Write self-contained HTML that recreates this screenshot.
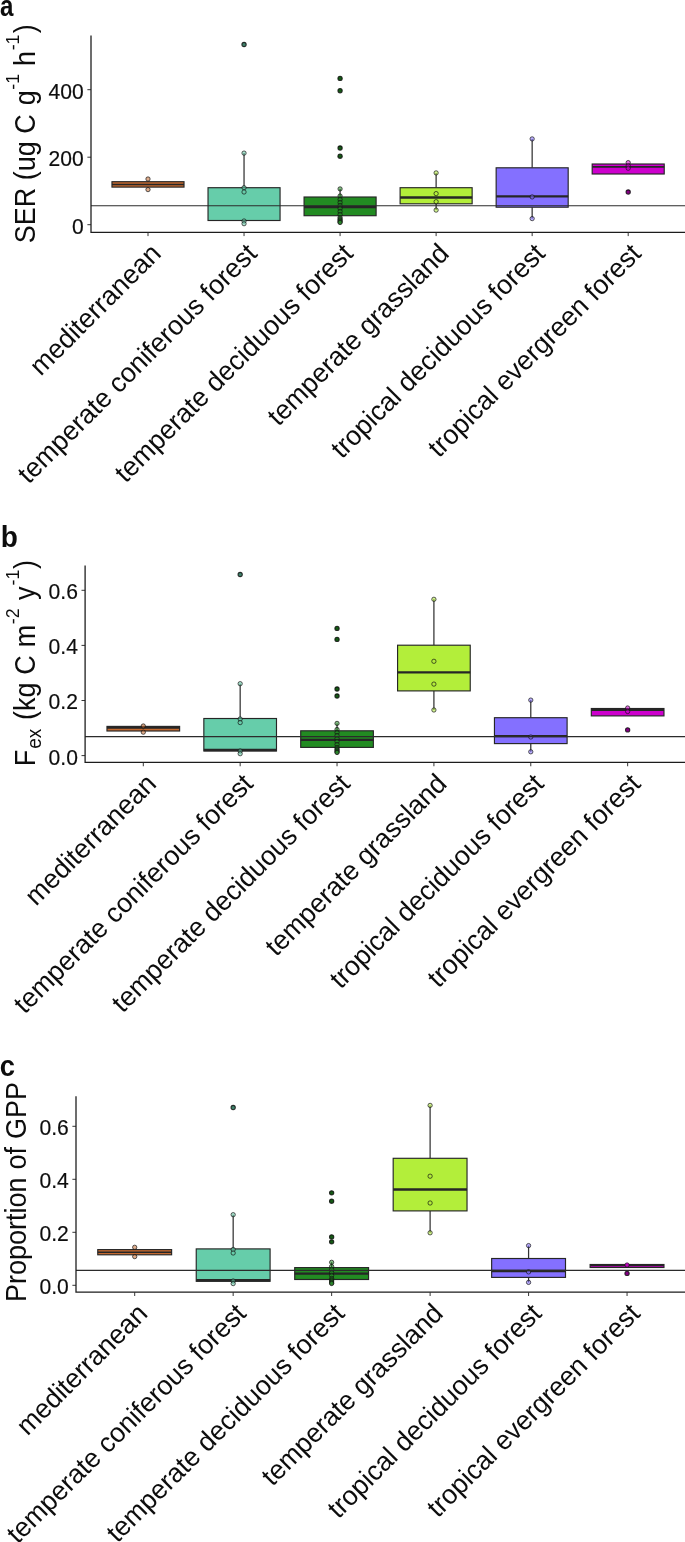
<!DOCTYPE html>
<html lang="en"><head><meta charset="utf-8"><title>Boxplots by biome</title>
<style>html,body{margin:0;padding:0;background:#fff}svg{display:block}</style></head><body>
<svg width="685" height="1542" viewBox="0 0 685 1542" font-family='"Liberation Sans", Arial, Helvetica, sans-serif'>
<style>text{fill:#0d0d0d}</style>
<rect width="685" height="1542" fill="#fff"/>
<g>
<text transform="translate(0.05 15.6) scale(0.82 1)" font-size="29.5" font-weight="700" fill="#0a0a0a">a</text>
<line x1="87.4" y1="224.7" x2="91" y2="224.7" stroke="#2a2a2a" stroke-width="0.95"/>
<text transform="translate(83.8 233.6) scale(1 1.06)" font-size="21.1" text-anchor="end" stroke="#111" stroke-width="0.18">0</text>
<line x1="87.4" y1="157.2" x2="91" y2="157.2" stroke="#2a2a2a" stroke-width="0.95"/>
<text transform="translate(83.8 166.1) scale(1 1.06)" font-size="21.1" text-anchor="end" stroke="#111" stroke-width="0.18">200</text>
<line x1="87.4" y1="89.7" x2="91" y2="89.7" stroke="#2a2a2a" stroke-width="0.95"/>
<text transform="translate(83.8 98.6) scale(1 1.06)" font-size="21.1" text-anchor="end" stroke="#111" stroke-width="0.18">400</text>
<rect x="111.98" y="181.7" width="72.03" height="5.4" fill="#C4692F" stroke="#262626" stroke-width="1.15"/>
<line x1="111.98" y1="184.4" x2="184.01" y2="184.4" stroke="#262626" stroke-width="1.5"/>
<circle cx="148" cy="179" r="2.15" fill="#C4692F" fill-opacity="0.55" stroke="#111" stroke-opacity="0.72" stroke-width="0.95"/>
<circle cx="148" cy="189.6" r="2.15" fill="#C4692F" fill-opacity="0.55" stroke="#111" stroke-opacity="0.72" stroke-width="0.95"/>
<line x1="244.04" y1="153.1" x2="244.04" y2="187.7" stroke="#333" stroke-width="1.25"/>
<circle cx="244.04" cy="44.5" r="2.15" fill="#66CDAA"/>
<circle cx="244.04" cy="44.5" r="2.15" fill="#000" fill-opacity="0.36" stroke="#0a0a0a" stroke-opacity="0.8" stroke-width="1.05"/>
<rect x="208.03" y="187.7" width="72.03" height="32.8" fill="#66CDAA" stroke="#262626" stroke-width="1.15"/>
<circle cx="244.04" cy="153.1" r="2.15" fill="#66CDAA" fill-opacity="0.55" stroke="#111" stroke-opacity="0.72" stroke-width="0.95"/>
<circle cx="244.04" cy="187.7" r="2.15" fill="#66CDAA" fill-opacity="0.55" stroke="#111" stroke-opacity="0.72" stroke-width="0.95"/>
<circle cx="244.04" cy="192" r="2.15" fill="#66CDAA" fill-opacity="0.55" stroke="#111" stroke-opacity="0.72" stroke-width="0.95"/>
<circle cx="244.04" cy="221" r="2.15" fill="#66CDAA" fill-opacity="0.55" stroke="#111" stroke-opacity="0.72" stroke-width="0.95"/>
<circle cx="244.04" cy="223.7" r="2.15" fill="#66CDAA" fill-opacity="0.55" stroke="#111" stroke-opacity="0.72" stroke-width="0.95"/>
<line x1="340.08" y1="188.9" x2="340.08" y2="197" stroke="#333" stroke-width="1.25"/>
<circle cx="340.08" cy="78.4" r="2.15" fill="#228B22"/>
<circle cx="340.08" cy="78.4" r="2.15" fill="#000" fill-opacity="0.36" stroke="#0a0a0a" stroke-opacity="0.8" stroke-width="1.05"/>
<circle cx="340.08" cy="90.7" r="2.15" fill="#228B22"/>
<circle cx="340.08" cy="90.7" r="2.15" fill="#000" fill-opacity="0.36" stroke="#0a0a0a" stroke-opacity="0.8" stroke-width="1.05"/>
<circle cx="340.08" cy="148" r="2.15" fill="#228B22"/>
<circle cx="340.08" cy="148" r="2.15" fill="#000" fill-opacity="0.36" stroke="#0a0a0a" stroke-opacity="0.8" stroke-width="1.05"/>
<circle cx="340.08" cy="156.2" r="2.15" fill="#228B22"/>
<circle cx="340.08" cy="156.2" r="2.15" fill="#000" fill-opacity="0.36" stroke="#0a0a0a" stroke-opacity="0.8" stroke-width="1.05"/>
<rect x="304.07" y="197" width="72.03" height="18.7" fill="#228B22" stroke="#262626" stroke-width="1.15"/>
<line x1="304.07" y1="206.9" x2="376.1" y2="206.9" stroke="#262626" stroke-width="2.5"/>
<circle cx="340.08" cy="188.9" r="2.15" fill="#228B22" fill-opacity="0.55" stroke="#111" stroke-opacity="0.72" stroke-width="0.95"/>
<circle cx="340.08" cy="196" r="2.15" fill="#228B22" fill-opacity="0.55" stroke="#111" stroke-opacity="0.72" stroke-width="0.95"/>
<circle cx="340.08" cy="199.5" r="2.15" fill="#228B22" fill-opacity="0.55" stroke="#111" stroke-opacity="0.72" stroke-width="0.95"/>
<circle cx="340.08" cy="202.5" r="2.15" fill="#228B22" fill-opacity="0.55" stroke="#111" stroke-opacity="0.72" stroke-width="0.95"/>
<circle cx="340.08" cy="205.5" r="2.15" fill="#228B22" fill-opacity="0.55" stroke="#111" stroke-opacity="0.72" stroke-width="0.95"/>
<circle cx="340.08" cy="208.5" r="2.15" fill="#228B22" fill-opacity="0.55" stroke="#111" stroke-opacity="0.72" stroke-width="0.95"/>
<circle cx="340.08" cy="211.5" r="2.15" fill="#228B22" fill-opacity="0.55" stroke="#111" stroke-opacity="0.72" stroke-width="0.95"/>
<circle cx="340.08" cy="214.5" r="2.15" fill="#228B22" fill-opacity="0.55" stroke="#111" stroke-opacity="0.72" stroke-width="0.95"/>
<circle cx="340.08" cy="217.5" r="2.15" fill="#228B22" fill-opacity="0.55" stroke="#111" stroke-opacity="0.72" stroke-width="0.95"/>
<circle cx="340.08" cy="219" r="2.15" fill="#228B22" fill-opacity="0.55" stroke="#111" stroke-opacity="0.72" stroke-width="0.95"/>
<circle cx="340.08" cy="220" r="2.15" fill="#228B22" fill-opacity="0.55" stroke="#111" stroke-opacity="0.72" stroke-width="0.95"/>
<circle cx="340.08" cy="221" r="2.15" fill="#228B22" fill-opacity="0.55" stroke="#111" stroke-opacity="0.72" stroke-width="0.95"/>
<circle cx="340.08" cy="222" r="2.15" fill="#228B22" fill-opacity="0.55" stroke="#111" stroke-opacity="0.72" stroke-width="0.95"/>
<circle cx="340.08" cy="222.5" r="2.15" fill="#228B22" fill-opacity="0.55" stroke="#111" stroke-opacity="0.72" stroke-width="0.95"/>
<line x1="436.12" y1="172.9" x2="436.12" y2="187.7" stroke="#333" stroke-width="1.25"/>
<line x1="436.12" y1="203.8" x2="436.12" y2="210.1" stroke="#333" stroke-width="1.25"/>
<rect x="400.11" y="187.7" width="72.03" height="16.1" fill="#B3EE3A" stroke="#262626" stroke-width="1.15"/>
<line x1="400.11" y1="197.5" x2="472.13" y2="197.5" stroke="#262626" stroke-width="2.3"/>
<circle cx="436.12" cy="172.9" r="2.15" fill="#B3EE3A" fill-opacity="0.55" stroke="#111" stroke-opacity="0.72" stroke-width="0.95"/>
<circle cx="436.12" cy="193.6" r="2.15" fill="#B3EE3A" fill-opacity="0.55" stroke="#111" stroke-opacity="0.72" stroke-width="0.95"/>
<circle cx="436.12" cy="201.7" r="2.15" fill="#B3EE3A" fill-opacity="0.55" stroke="#111" stroke-opacity="0.72" stroke-width="0.95"/>
<circle cx="436.12" cy="210.1" r="2.15" fill="#B3EE3A" fill-opacity="0.55" stroke="#111" stroke-opacity="0.72" stroke-width="0.95"/>
<line x1="532.16" y1="138.9" x2="532.16" y2="167.8" stroke="#333" stroke-width="1.25"/>
<line x1="532.16" y1="207.2" x2="532.16" y2="218.6" stroke="#333" stroke-width="1.25"/>
<rect x="496.15" y="167.8" width="72.03" height="39.4" fill="#8470FF" stroke="#262626" stroke-width="1.15"/>
<line x1="496.15" y1="196.4" x2="568.18" y2="196.4" stroke="#262626" stroke-width="2.3"/>
<circle cx="532.16" cy="138.9" r="2.15" fill="#8470FF" fill-opacity="0.55" stroke="#111" stroke-opacity="0.72" stroke-width="0.95"/>
<circle cx="532.16" cy="196.9" r="2.15" fill="#8470FF" fill-opacity="0.55" stroke="#111" stroke-opacity="0.72" stroke-width="0.95"/>
<circle cx="532.16" cy="218.6" r="2.15" fill="#8470FF" fill-opacity="0.55" stroke="#111" stroke-opacity="0.72" stroke-width="0.95"/>
<circle cx="628.2" cy="192" r="2.15" fill="#CD00CD"/>
<circle cx="628.2" cy="192" r="2.15" fill="#000" fill-opacity="0.36" stroke="#0a0a0a" stroke-opacity="0.8" stroke-width="1.05"/>
<rect x="592.19" y="164" width="72.03" height="10" fill="#CD00CD" stroke="#262626" stroke-width="1.15"/>
<line x1="592.19" y1="166.8" x2="664.22" y2="166.8" stroke="#262626" stroke-width="1.8"/>
<circle cx="628.2" cy="162.6" r="2.15" fill="#CD00CD" fill-opacity="0.55" stroke="#111" stroke-opacity="0.72" stroke-width="0.95"/>
<circle cx="628.2" cy="165.9" r="2.15" fill="#CD00CD" fill-opacity="0.55" stroke="#111" stroke-opacity="0.72" stroke-width="0.95"/>
<circle cx="628.2" cy="168.2" r="2.15" fill="#CD00CD" fill-opacity="0.55" stroke="#111" stroke-opacity="0.72" stroke-width="0.95"/>
<line x1="91" y1="205.7" x2="685" y2="205.7" stroke="#2b2b2b" stroke-width="1.1"/>
<path d="M91 35.4V232.3H687" fill="none" stroke="#1c1c1c" stroke-width="1.28"/>
<line x1="148" y1="232.3" x2="148" y2="236.1" stroke="#2a2a2a" stroke-width="0.95"/>
<text transform="translate(162.4 255) rotate(-45) scale(1 1.02)" font-size="26.7" text-anchor="end">mediterranean</text>
<line x1="244.04" y1="232.3" x2="244.04" y2="236.1" stroke="#2a2a2a" stroke-width="0.95"/>
<text transform="translate(258.44 255) rotate(-45) scale(1 1.02)" font-size="26.7" text-anchor="end">temperate coniferous forest</text>
<line x1="340.08" y1="232.3" x2="340.08" y2="236.1" stroke="#2a2a2a" stroke-width="0.95"/>
<text transform="translate(354.48 255) rotate(-45) scale(1 1.02)" font-size="26.7" text-anchor="end">temperate deciduous forest</text>
<line x1="436.12" y1="232.3" x2="436.12" y2="236.1" stroke="#2a2a2a" stroke-width="0.95"/>
<text transform="translate(450.52 255) rotate(-45) scale(1 1.02)" font-size="26.7" text-anchor="end">temperate grassland</text>
<line x1="532.16" y1="232.3" x2="532.16" y2="236.1" stroke="#2a2a2a" stroke-width="0.95"/>
<text transform="translate(546.56 255) rotate(-45) scale(1 1.02)" font-size="26.7" text-anchor="end">tropical deciduous forest</text>
<line x1="628.2" y1="232.3" x2="628.2" y2="236.1" stroke="#2a2a2a" stroke-width="0.95"/>
<text transform="translate(642.6 255) rotate(-45) scale(1 1.02)" font-size="26.7" text-anchor="end">tropical evergreen forest</text>
<text transform="translate(34.5 243.2) rotate(-90) scale(1 1.06)" font-size="27" word-spacing="0">SER (ug C <tspan dx="1.5">g</tspan><tspan font-size="17.8" dy="-14.5" dx="0.5">-1</tspan><tspan dy="14.5" dx="0.5"> h</tspan><tspan font-size="17.8" dy="-14.5" dx="0.5">-1</tspan><tspan dy="14.5" dx="1.3">)</tspan></text>
</g>
<g>
<text transform="translate(0.7 546.7) scale(0.95 1)" font-size="29.5" font-weight="700" fill="#0a0a0a">b</text>
<line x1="81.5" y1="755.6" x2="85.1" y2="755.6" stroke="#2a2a2a" stroke-width="0.95"/>
<text transform="translate(77.9 764.5) scale(1 1.06)" font-size="21.1" text-anchor="end" stroke="#111" stroke-width="0.18">0.0</text>
<line x1="81.5" y1="700.5" x2="85.1" y2="700.5" stroke="#2a2a2a" stroke-width="0.95"/>
<text transform="translate(77.9 709.4) scale(1 1.06)" font-size="21.1" text-anchor="end" stroke="#111" stroke-width="0.18">0.2</text>
<line x1="81.5" y1="645.4" x2="85.1" y2="645.4" stroke="#2a2a2a" stroke-width="0.95"/>
<text transform="translate(77.9 654.3) scale(1 1.06)" font-size="21.1" text-anchor="end" stroke="#111" stroke-width="0.18">0.4</text>
<line x1="81.5" y1="590.3" x2="85.1" y2="590.3" stroke="#2a2a2a" stroke-width="0.95"/>
<text transform="translate(77.9 599.2) scale(1 1.06)" font-size="21.1" text-anchor="end" stroke="#111" stroke-width="0.18">0.6</text>
<rect x="106.97" y="726.4" width="72.65" height="4.6" fill="#C4692F" stroke="#262626" stroke-width="1.15"/>
<line x1="106.97" y1="727.7" x2="179.63" y2="727.7" stroke="#262626" stroke-width="2.2"/>
<circle cx="143.3" cy="726" r="2.15" fill="#C4692F" fill-opacity="0.55" stroke="#111" stroke-opacity="0.72" stroke-width="0.95"/>
<circle cx="143.3" cy="732.2" r="2.15" fill="#C4692F" fill-opacity="0.55" stroke="#111" stroke-opacity="0.72" stroke-width="0.95"/>
<line x1="240.17" y1="683.7" x2="240.17" y2="718.5" stroke="#333" stroke-width="1.25"/>
<circle cx="240.17" cy="574.5" r="2.15" fill="#66CDAA"/>
<circle cx="240.17" cy="574.5" r="2.15" fill="#000" fill-opacity="0.36" stroke="#0a0a0a" stroke-opacity="0.8" stroke-width="1.05"/>
<rect x="203.84" y="718.5" width="72.65" height="32.5" fill="#66CDAA" stroke="#262626" stroke-width="1.15"/>
<line x1="203.84" y1="750" x2="276.5" y2="750" stroke="#262626" stroke-width="2.4"/>
<circle cx="240.17" cy="683.7" r="2.15" fill="#66CDAA" fill-opacity="0.55" stroke="#111" stroke-opacity="0.72" stroke-width="0.95"/>
<circle cx="240.17" cy="719" r="2.15" fill="#66CDAA" fill-opacity="0.55" stroke="#111" stroke-opacity="0.72" stroke-width="0.95"/>
<circle cx="240.17" cy="722.6" r="2.15" fill="#66CDAA" fill-opacity="0.55" stroke="#111" stroke-opacity="0.72" stroke-width="0.95"/>
<circle cx="240.17" cy="751" r="2.15" fill="#66CDAA" fill-opacity="0.55" stroke="#111" stroke-opacity="0.72" stroke-width="0.95"/>
<circle cx="240.17" cy="753.7" r="2.15" fill="#66CDAA" fill-opacity="0.55" stroke="#111" stroke-opacity="0.72" stroke-width="0.95"/>
<line x1="337.04" y1="723.4" x2="337.04" y2="730.8" stroke="#333" stroke-width="1.25"/>
<circle cx="337.04" cy="628.4" r="2.15" fill="#228B22"/>
<circle cx="337.04" cy="628.4" r="2.15" fill="#000" fill-opacity="0.36" stroke="#0a0a0a" stroke-opacity="0.8" stroke-width="1.05"/>
<circle cx="337.04" cy="639.4" r="2.15" fill="#228B22"/>
<circle cx="337.04" cy="639.4" r="2.15" fill="#000" fill-opacity="0.36" stroke="#0a0a0a" stroke-opacity="0.8" stroke-width="1.05"/>
<circle cx="337.04" cy="689" r="2.15" fill="#228B22"/>
<circle cx="337.04" cy="689" r="2.15" fill="#000" fill-opacity="0.36" stroke="#0a0a0a" stroke-opacity="0.8" stroke-width="1.05"/>
<circle cx="337.04" cy="696" r="2.15" fill="#228B22"/>
<circle cx="337.04" cy="696" r="2.15" fill="#000" fill-opacity="0.36" stroke="#0a0a0a" stroke-opacity="0.8" stroke-width="1.05"/>
<rect x="300.71" y="730.8" width="72.65" height="16.6" fill="#228B22" stroke="#262626" stroke-width="1.15"/>
<line x1="300.71" y1="739.9" x2="373.37" y2="739.9" stroke="#262626" stroke-width="2.3"/>
<circle cx="337.04" cy="723.4" r="2.15" fill="#228B22" fill-opacity="0.55" stroke="#111" stroke-opacity="0.72" stroke-width="0.95"/>
<circle cx="337.04" cy="729.5" r="2.15" fill="#228B22" fill-opacity="0.55" stroke="#111" stroke-opacity="0.72" stroke-width="0.95"/>
<circle cx="337.04" cy="732.5" r="2.15" fill="#228B22" fill-opacity="0.55" stroke="#111" stroke-opacity="0.72" stroke-width="0.95"/>
<circle cx="337.04" cy="735.5" r="2.15" fill="#228B22" fill-opacity="0.55" stroke="#111" stroke-opacity="0.72" stroke-width="0.95"/>
<circle cx="337.04" cy="738.5" r="2.15" fill="#228B22" fill-opacity="0.55" stroke="#111" stroke-opacity="0.72" stroke-width="0.95"/>
<circle cx="337.04" cy="741.5" r="2.15" fill="#228B22" fill-opacity="0.55" stroke="#111" stroke-opacity="0.72" stroke-width="0.95"/>
<circle cx="337.04" cy="744.5" r="2.15" fill="#228B22" fill-opacity="0.55" stroke="#111" stroke-opacity="0.72" stroke-width="0.95"/>
<circle cx="337.04" cy="747.5" r="2.15" fill="#228B22" fill-opacity="0.55" stroke="#111" stroke-opacity="0.72" stroke-width="0.95"/>
<circle cx="337.04" cy="749" r="2.15" fill="#228B22" fill-opacity="0.55" stroke="#111" stroke-opacity="0.72" stroke-width="0.95"/>
<circle cx="337.04" cy="750" r="2.15" fill="#228B22" fill-opacity="0.55" stroke="#111" stroke-opacity="0.72" stroke-width="0.95"/>
<circle cx="337.04" cy="751" r="2.15" fill="#228B22" fill-opacity="0.55" stroke="#111" stroke-opacity="0.72" stroke-width="0.95"/>
<circle cx="337.04" cy="752" r="2.15" fill="#228B22" fill-opacity="0.55" stroke="#111" stroke-opacity="0.72" stroke-width="0.95"/>
<circle cx="337.04" cy="752.5" r="2.15" fill="#228B22" fill-opacity="0.55" stroke="#111" stroke-opacity="0.72" stroke-width="0.95"/>
<line x1="433.91" y1="599.3" x2="433.91" y2="645.2" stroke="#333" stroke-width="1.25"/>
<line x1="433.91" y1="690.9" x2="433.91" y2="710" stroke="#333" stroke-width="1.25"/>
<rect x="397.58" y="645.2" width="72.65" height="45.7" fill="#B3EE3A" stroke="#262626" stroke-width="1.15"/>
<line x1="397.58" y1="672.3" x2="470.24" y2="672.3" stroke="#262626" stroke-width="2.3"/>
<circle cx="433.91" cy="599.3" r="2.15" fill="#B3EE3A" fill-opacity="0.55" stroke="#111" stroke-opacity="0.72" stroke-width="0.95"/>
<circle cx="433.91" cy="661.3" r="2.15" fill="#B3EE3A" fill-opacity="0.55" stroke="#111" stroke-opacity="0.72" stroke-width="0.95"/>
<circle cx="433.91" cy="684.1" r="2.15" fill="#B3EE3A" fill-opacity="0.55" stroke="#111" stroke-opacity="0.72" stroke-width="0.95"/>
<circle cx="433.91" cy="710" r="2.15" fill="#B3EE3A" fill-opacity="0.55" stroke="#111" stroke-opacity="0.72" stroke-width="0.95"/>
<line x1="530.78" y1="700.1" x2="530.78" y2="717.7" stroke="#333" stroke-width="1.25"/>
<line x1="530.78" y1="743.6" x2="530.78" y2="751.8" stroke="#333" stroke-width="1.25"/>
<rect x="494.45" y="717.7" width="72.65" height="25.9" fill="#8470FF" stroke="#262626" stroke-width="1.15"/>
<line x1="494.45" y1="736.2" x2="567.11" y2="736.2" stroke="#262626" stroke-width="2.3"/>
<circle cx="530.78" cy="700.1" r="2.15" fill="#8470FF" fill-opacity="0.55" stroke="#111" stroke-opacity="0.72" stroke-width="0.95"/>
<circle cx="530.78" cy="737" r="2.15" fill="#8470FF" fill-opacity="0.55" stroke="#111" stroke-opacity="0.72" stroke-width="0.95"/>
<circle cx="530.78" cy="751.8" r="2.15" fill="#8470FF" fill-opacity="0.55" stroke="#111" stroke-opacity="0.72" stroke-width="0.95"/>
<circle cx="627.65" cy="729.9" r="2.15" fill="#CD00CD"/>
<circle cx="627.65" cy="729.9" r="2.15" fill="#000" fill-opacity="0.36" stroke="#0a0a0a" stroke-opacity="0.8" stroke-width="1.05"/>
<rect x="591.32" y="708.5" width="72.65" height="7.4" fill="#CD00CD" stroke="#262626" stroke-width="1.15"/>
<line x1="591.32" y1="709.9" x2="663.98" y2="709.9" stroke="#262626" stroke-width="2.4"/>
<circle cx="627.65" cy="708" r="2.15" fill="#CD00CD" fill-opacity="0.55" stroke="#111" stroke-opacity="0.72" stroke-width="0.95"/>
<circle cx="627.65" cy="711.5" r="2.15" fill="#CD00CD" fill-opacity="0.55" stroke="#111" stroke-opacity="0.72" stroke-width="0.95"/>
<line x1="85.1" y1="736.6" x2="685" y2="736.6" stroke="#2b2b2b" stroke-width="1.1"/>
<path d="M85.1 565.6V762.45H687" fill="none" stroke="#1c1c1c" stroke-width="1.28"/>
<line x1="143.3" y1="762.45" x2="143.3" y2="766.25" stroke="#2a2a2a" stroke-width="0.95"/>
<text transform="translate(157.7 785.15) rotate(-45) scale(1 1.02)" font-size="26.7" text-anchor="end">mediterranean</text>
<line x1="240.17" y1="762.45" x2="240.17" y2="766.25" stroke="#2a2a2a" stroke-width="0.95"/>
<text transform="translate(254.57 785.15) rotate(-45) scale(1 1.02)" font-size="26.7" text-anchor="end">temperate coniferous forest</text>
<line x1="337.04" y1="762.45" x2="337.04" y2="766.25" stroke="#2a2a2a" stroke-width="0.95"/>
<text transform="translate(351.44 785.15) rotate(-45) scale(1 1.02)" font-size="26.7" text-anchor="end">temperate deciduous forest</text>
<line x1="433.91" y1="762.45" x2="433.91" y2="766.25" stroke="#2a2a2a" stroke-width="0.95"/>
<text transform="translate(448.31 785.15) rotate(-45) scale(1 1.02)" font-size="26.7" text-anchor="end">temperate grassland</text>
<line x1="530.78" y1="762.45" x2="530.78" y2="766.25" stroke="#2a2a2a" stroke-width="0.95"/>
<text transform="translate(545.18 785.15) rotate(-45) scale(1 1.02)" font-size="26.7" text-anchor="end">tropical deciduous forest</text>
<line x1="627.65" y1="762.45" x2="627.65" y2="766.25" stroke="#2a2a2a" stroke-width="0.95"/>
<text transform="translate(642.05 785.15) rotate(-45) scale(1 1.02)" font-size="26.7" text-anchor="end">tropical evergreen forest</text>
<text transform="translate(34.5 766.2) rotate(-90) scale(1 1.06)" font-size="27" word-spacing="0.4">F<tspan font-size="18.9" dy="6" dx="1">ex</tspan><tspan dy="-6" dx="0.8"> (kg C m</tspan><tspan font-size="17.8" dy="-14.5" dx="0.5">-2</tspan><tspan dy="14.5" dx="0.5"> y</tspan><tspan font-size="17.8" dy="-14.5" dx="1.2">-1</tspan><tspan dy="14.5" dx="0.5">)</tspan></text>
</g>
<g>
<text transform="translate(-0.25 1076.4) scale(0.93 1)" font-size="29.5" font-weight="700" fill="#0a0a0a">c</text>
<line x1="72.4" y1="1285.3" x2="76" y2="1285.3" stroke="#2a2a2a" stroke-width="0.95"/>
<text transform="translate(68.8 1294.2) scale(1 1.06)" font-size="21.1" text-anchor="end" stroke="#111" stroke-width="0.18">0.0</text>
<line x1="72.4" y1="1232.3" x2="76" y2="1232.3" stroke="#2a2a2a" stroke-width="0.95"/>
<text transform="translate(68.8 1241.2) scale(1 1.06)" font-size="21.1" text-anchor="end" stroke="#111" stroke-width="0.18">0.2</text>
<line x1="72.4" y1="1179.3" x2="76" y2="1179.3" stroke="#2a2a2a" stroke-width="0.95"/>
<text transform="translate(68.8 1188.2) scale(1 1.06)" font-size="21.1" text-anchor="end" stroke="#111" stroke-width="0.18">0.4</text>
<line x1="72.4" y1="1126.3" x2="76" y2="1126.3" stroke="#2a2a2a" stroke-width="0.95"/>
<text transform="translate(68.8 1135.2) scale(1 1.06)" font-size="21.1" text-anchor="end" stroke="#111" stroke-width="0.18">0.6</text>
<rect x="97.77" y="1249.6" width="73.85" height="5.2" fill="#C4692F" stroke="#262626" stroke-width="1.15"/>
<line x1="97.77" y1="1252.2" x2="171.63" y2="1252.2" stroke="#262626" stroke-width="1.6"/>
<circle cx="134.7" cy="1247.3" r="2.15" fill="#C4692F" fill-opacity="0.55" stroke="#111" stroke-opacity="0.72" stroke-width="0.95"/>
<circle cx="134.7" cy="1256.6" r="2.15" fill="#C4692F" fill-opacity="0.55" stroke="#111" stroke-opacity="0.72" stroke-width="0.95"/>
<line x1="233.17" y1="1214.7" x2="233.17" y2="1248.9" stroke="#333" stroke-width="1.25"/>
<circle cx="233.17" cy="1107.5" r="2.15" fill="#66CDAA"/>
<circle cx="233.17" cy="1107.5" r="2.15" fill="#000" fill-opacity="0.36" stroke="#0a0a0a" stroke-opacity="0.8" stroke-width="1.05"/>
<rect x="196.24" y="1248.9" width="73.85" height="32.4" fill="#66CDAA" stroke="#262626" stroke-width="1.15"/>
<line x1="196.24" y1="1280.2" x2="270.1" y2="1280.2" stroke="#262626" stroke-width="2.4"/>
<circle cx="233.17" cy="1214.7" r="2.15" fill="#66CDAA" fill-opacity="0.55" stroke="#111" stroke-opacity="0.72" stroke-width="0.95"/>
<circle cx="233.17" cy="1249.5" r="2.15" fill="#66CDAA" fill-opacity="0.55" stroke="#111" stroke-opacity="0.72" stroke-width="0.95"/>
<circle cx="233.17" cy="1253" r="2.15" fill="#66CDAA" fill-opacity="0.55" stroke="#111" stroke-opacity="0.72" stroke-width="0.95"/>
<circle cx="233.17" cy="1281" r="2.15" fill="#66CDAA" fill-opacity="0.55" stroke="#111" stroke-opacity="0.72" stroke-width="0.95"/>
<circle cx="233.17" cy="1283.6" r="2.15" fill="#66CDAA" fill-opacity="0.55" stroke="#111" stroke-opacity="0.72" stroke-width="0.95"/>
<line x1="331.64" y1="1262.3" x2="331.64" y2="1267.6" stroke="#333" stroke-width="1.25"/>
<circle cx="331.64" cy="1192.8" r="2.15" fill="#228B22"/>
<circle cx="331.64" cy="1192.8" r="2.15" fill="#000" fill-opacity="0.36" stroke="#0a0a0a" stroke-opacity="0.8" stroke-width="1.05"/>
<circle cx="331.64" cy="1201.2" r="2.15" fill="#228B22"/>
<circle cx="331.64" cy="1201.2" r="2.15" fill="#000" fill-opacity="0.36" stroke="#0a0a0a" stroke-opacity="0.8" stroke-width="1.05"/>
<circle cx="331.64" cy="1236.9" r="2.15" fill="#228B22"/>
<circle cx="331.64" cy="1236.9" r="2.15" fill="#000" fill-opacity="0.36" stroke="#0a0a0a" stroke-opacity="0.8" stroke-width="1.05"/>
<circle cx="331.64" cy="1241.8" r="2.15" fill="#228B22"/>
<circle cx="331.64" cy="1241.8" r="2.15" fill="#000" fill-opacity="0.36" stroke="#0a0a0a" stroke-opacity="0.8" stroke-width="1.05"/>
<rect x="294.71" y="1267.6" width="73.85" height="11.9" fill="#228B22" stroke="#262626" stroke-width="1.15"/>
<line x1="294.71" y1="1273.7" x2="368.57" y2="1273.7" stroke="#262626" stroke-width="2.3"/>
<circle cx="331.64" cy="1262.3" r="2.15" fill="#228B22" fill-opacity="0.55" stroke="#111" stroke-opacity="0.72" stroke-width="0.95"/>
<circle cx="331.64" cy="1266.5" r="2.15" fill="#228B22" fill-opacity="0.55" stroke="#111" stroke-opacity="0.72" stroke-width="0.95"/>
<circle cx="331.64" cy="1269.5" r="2.15" fill="#228B22" fill-opacity="0.55" stroke="#111" stroke-opacity="0.72" stroke-width="0.95"/>
<circle cx="331.64" cy="1272.5" r="2.15" fill="#228B22" fill-opacity="0.55" stroke="#111" stroke-opacity="0.72" stroke-width="0.95"/>
<circle cx="331.64" cy="1275.5" r="2.15" fill="#228B22" fill-opacity="0.55" stroke="#111" stroke-opacity="0.72" stroke-width="0.95"/>
<circle cx="331.64" cy="1278.5" r="2.15" fill="#228B22" fill-opacity="0.55" stroke="#111" stroke-opacity="0.72" stroke-width="0.95"/>
<circle cx="331.64" cy="1280" r="2.15" fill="#228B22" fill-opacity="0.55" stroke="#111" stroke-opacity="0.72" stroke-width="0.95"/>
<circle cx="331.64" cy="1281" r="2.15" fill="#228B22" fill-opacity="0.55" stroke="#111" stroke-opacity="0.72" stroke-width="0.95"/>
<circle cx="331.64" cy="1282" r="2.15" fill="#228B22" fill-opacity="0.55" stroke="#111" stroke-opacity="0.72" stroke-width="0.95"/>
<circle cx="331.64" cy="1283" r="2.15" fill="#228B22" fill-opacity="0.55" stroke="#111" stroke-opacity="0.72" stroke-width="0.95"/>
<circle cx="331.64" cy="1283.5" r="2.15" fill="#228B22" fill-opacity="0.55" stroke="#111" stroke-opacity="0.72" stroke-width="0.95"/>
<line x1="430.11" y1="1105.4" x2="430.11" y2="1158.3" stroke="#333" stroke-width="1.25"/>
<line x1="430.11" y1="1210.9" x2="430.11" y2="1232.8" stroke="#333" stroke-width="1.25"/>
<rect x="393.18" y="1158.3" width="73.85" height="52.6" fill="#B3EE3A" stroke="#262626" stroke-width="1.15"/>
<line x1="393.18" y1="1189.5" x2="467.04" y2="1189.5" stroke="#262626" stroke-width="2.3"/>
<circle cx="430.11" cy="1105.4" r="2.15" fill="#B3EE3A" fill-opacity="0.55" stroke="#111" stroke-opacity="0.72" stroke-width="0.95"/>
<circle cx="430.11" cy="1176.2" r="2.15" fill="#B3EE3A" fill-opacity="0.55" stroke="#111" stroke-opacity="0.72" stroke-width="0.95"/>
<circle cx="430.11" cy="1203" r="2.15" fill="#B3EE3A" fill-opacity="0.55" stroke="#111" stroke-opacity="0.72" stroke-width="0.95"/>
<circle cx="430.11" cy="1232.8" r="2.15" fill="#B3EE3A" fill-opacity="0.55" stroke="#111" stroke-opacity="0.72" stroke-width="0.95"/>
<line x1="528.58" y1="1245.6" x2="528.58" y2="1258.5" stroke="#333" stroke-width="1.25"/>
<line x1="528.58" y1="1277.4" x2="528.58" y2="1282.4" stroke="#333" stroke-width="1.25"/>
<rect x="491.65" y="1258.5" width="73.85" height="18.9" fill="#8470FF" stroke="#262626" stroke-width="1.15"/>
<line x1="491.65" y1="1271" x2="565.51" y2="1271" stroke="#262626" stroke-width="2.3"/>
<circle cx="528.58" cy="1245.6" r="2.15" fill="#8470FF" fill-opacity="0.55" stroke="#111" stroke-opacity="0.72" stroke-width="0.95"/>
<circle cx="528.58" cy="1271.9" r="2.15" fill="#8470FF" fill-opacity="0.55" stroke="#111" stroke-opacity="0.72" stroke-width="0.95"/>
<circle cx="528.58" cy="1282.4" r="2.15" fill="#8470FF" fill-opacity="0.55" stroke="#111" stroke-opacity="0.72" stroke-width="0.95"/>
<circle cx="627.05" cy="1273.4" r="2.15" fill="#CD00CD"/>
<circle cx="627.05" cy="1273.4" r="2.15" fill="#000" fill-opacity="0.36" stroke="#0a0a0a" stroke-opacity="0.8" stroke-width="1.05"/>
<rect x="590.12" y="1264.5" width="73.85" height="3" fill="#CD00CD" stroke="#262626" stroke-width="1.15"/>
<line x1="590.12" y1="1265.4" x2="663.98" y2="1265.4" stroke="#262626" stroke-width="1.6"/>
<circle cx="627.05" cy="1265" r="2.15" fill="#CD00CD" fill-opacity="0.9" stroke="#111" stroke-opacity="0.72" stroke-width="0.95"/>
<line x1="76" y1="1270.4" x2="685" y2="1270.4" stroke="#2b2b2b" stroke-width="1.1"/>
<path d="M76 1096.3V1292.2H687" fill="none" stroke="#1c1c1c" stroke-width="1.28"/>
<line x1="134.7" y1="1292.2" x2="134.7" y2="1296" stroke="#2a2a2a" stroke-width="0.95"/>
<text transform="translate(149.1 1314.9) rotate(-45) scale(1 1.02)" font-size="26.7" text-anchor="end">mediterranean</text>
<line x1="233.17" y1="1292.2" x2="233.17" y2="1296" stroke="#2a2a2a" stroke-width="0.95"/>
<text transform="translate(247.57 1314.9) rotate(-45) scale(1 1.02)" font-size="26.7" text-anchor="end">temperate coniferous forest</text>
<line x1="331.64" y1="1292.2" x2="331.64" y2="1296" stroke="#2a2a2a" stroke-width="0.95"/>
<text transform="translate(346.04 1314.9) rotate(-45) scale(1 1.02)" font-size="26.7" text-anchor="end">temperate deciduous forest</text>
<line x1="430.11" y1="1292.2" x2="430.11" y2="1296" stroke="#2a2a2a" stroke-width="0.95"/>
<text transform="translate(444.51 1314.9) rotate(-45) scale(1 1.02)" font-size="26.7" text-anchor="end">temperate grassland</text>
<line x1="528.58" y1="1292.2" x2="528.58" y2="1296" stroke="#2a2a2a" stroke-width="0.95"/>
<text transform="translate(542.98 1314.9) rotate(-45) scale(1 1.02)" font-size="26.7" text-anchor="end">tropical deciduous forest</text>
<line x1="627.05" y1="1292.2" x2="627.05" y2="1296" stroke="#2a2a2a" stroke-width="0.95"/>
<text transform="translate(641.45 1314.9) rotate(-45) scale(1 1.02)" font-size="26.7" text-anchor="end">tropical evergreen forest</text>
<text transform="translate(25.9 1302) rotate(-90) scale(1 1.06)" font-size="27" word-spacing="0.5">Proportion of GPP</text>
</g>
</svg></body></html>
